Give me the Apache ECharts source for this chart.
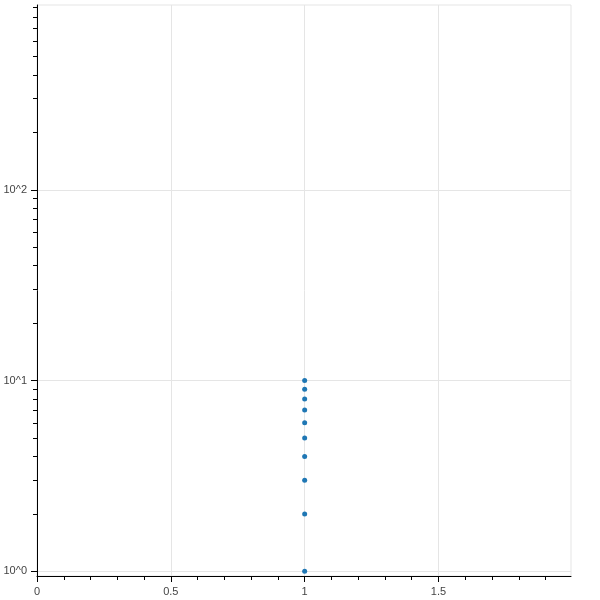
<!DOCTYPE html>
<html>
<head>
<meta charset="utf-8">
<script src="https://cdn.jsdelivr.net/npm/echarts@6/dist/echarts.min.js"></script>
<style>
  html, body { margin: 0; padding: 0; background: #fff; }
  #chart { width: 600px; height: 600px; }
</style>
</head>
<body>
<div id="chart"></div>
<script>
// 数据
var xValues = [1, 1, 1, 1, 1, 1, 1, 1, 1, 1];
var yValues = [1, 2, 3, 4, 5, 6, 7, 8, 9, 10];

// 刻度
var xMajorTicks = [0, 0.5, 1, 1.5];
var xMinorTicks = [0.1, 0.2, 0.3, 0.4, 0.6, 0.7, 0.8, 0.9, 1.1, 1.2, 1.3, 1.4, 1.6, 1.7, 1.8, 1.9];
var yMajorTicks = [1, 10, 100];
var yTickLabels = ['10^0', '10^1', '10^2'];
var yMinorTicks = [2, 3, 4, 5, 6, 7, 8, 9, 20, 30, 40, 50, 60, 70, 80, 90,
                   200, 300, 400, 500, 600, 700, 800, 900];

var xRange = [0, 1.995];
var yRange = [0.945, 930];

var labelFont = { color: '#444', fontSize: 11, fontFamily: 'Liberation Sans, Arial, sans-serif' };

function yLabel(v) {
    for (var i = 0; i < yMajorTicks.length; i++) {
        if (Math.abs(v - yMajorTicks[i]) < 1e-6 * yMajorTicks[i]) return yTickLabels[i];
    }
    return '';
}

var chart = echarts.init(document.getElementById('chart'));
var option = {
    animation: false,
    grid: {
        left: 37, right: 29, top: 5, bottom: 24,
        show: true,
        borderColor: '#e5e5e5',
        borderWidth: 1,
        backgroundColor: 'transparent'
    },
    xAxis: [
        {
            type: 'value',
            position: 'bottom',
            min: xRange[0], max: xRange[1],
            axisLine: { show: true, onZero: false, lineStyle: { color: '#000', width: 1 } },
            axisTick: { show: true, length: 6, customValues: xMajorTicks, lineStyle: { color: '#000' } },
            axisLabel: Object.assign({ customValues: xMajorTicks, margin: 10,
                formatter: function (v) { return String(v); } }, labelFont),
            splitLine: { show: true, lineStyle: { color: '#e5e5e5' } }
        },
        {
            type: 'value',
            position: 'bottom',
            min: xRange[0], max: xRange[1],
            axisLine: { show: false },
            axisTick: { show: true, length: 4, customValues: xMinorTicks, lineStyle: { color: '#000' } },
            axisLabel: { show: false },
            splitLine: { show: false }
        }
    ],
    yAxis: [
        {
            type: 'log',
            position: 'left',
            min: yRange[0], max: yRange[1],
            axisLine: { show: true, onZero: false, lineStyle: { color: '#000', width: 1 } },
            axisTick: { show: true, length: 6, customValues: yMajorTicks, lineStyle: { color: '#000' } },
            axisLabel: Object.assign({ customValues: yMajorTicks, margin: 10, formatter: yLabel }, labelFont),
            splitLine: { show: true, lineStyle: { color: '#e5e5e5' } }
        },
        {
            type: 'log',
            position: 'left',
            min: yRange[0], max: yRange[1],
            axisLine: { show: false },
            axisTick: { show: true, length: 4, customValues: yMinorTicks, lineStyle: { color: '#000' } },
            axisLabel: { show: false },
            splitLine: { show: false }
        }
    ],
    series: [
        {
            type: 'scatter',
            xAxisIndex: 0,
            yAxisIndex: 0,
            symbol: 'circle',
            symbolSize: 5,
            itemStyle: { color: '#1f77b4', opacity: 1 },
            data: xValues.map(function (x, i) { return [x, yValues[i]]; })
        }
    ]
};
chart.setOption(option);
</script>
</body>
</html>
